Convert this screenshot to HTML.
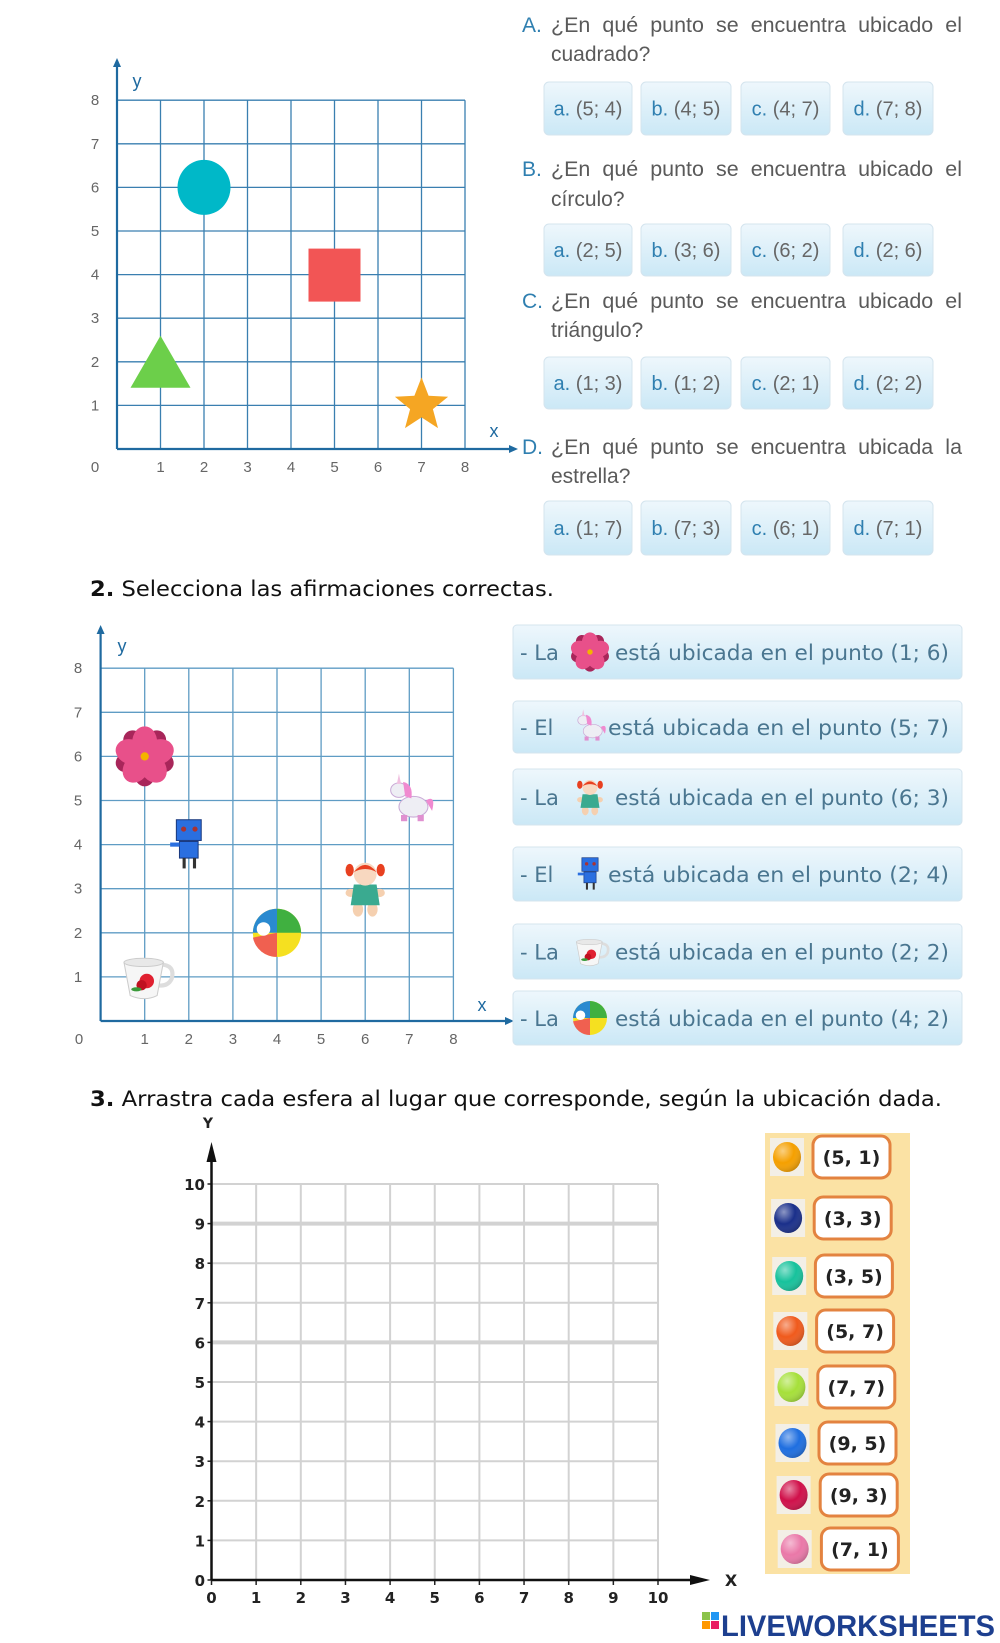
<!DOCTYPE html>
<html><head><meta charset="utf-8">
<style>
html,body{margin:0;padding:0;background:#fff;}
svg{display:block;}
text{font-family:"Liberation Sans",sans-serif;}
.q{font-size:21px;fill:#5a5a5a;}
.ql{font-size:21px;fill:#2f7fb0;}
.dv{font-family:"DejaVu Sans",sans-serif;}
</style></head>
<body>
<svg id="page" width="1000" height="1643" viewBox="0 0 1000 1643" xmlns="http://www.w3.org/2000/svg">
<defs>
<linearGradient id="btn" x1="0" y1="0" x2="0" y2="1"><stop offset="0" stop-color="#eef7fc"/><stop offset="1" stop-color="#cbe8f6"/></linearGradient>
<radialGradient id="shine" cx="0.35" cy="0.3" r="0.8"><stop offset="0" stop-color="#fff" stop-opacity="0.5"/><stop offset="0.5" stop-color="#fff" stop-opacity="0"/><stop offset="1" stop-color="#000" stop-opacity="0.25"/></radialGradient>
</defs>
<g id="c1"></g>
<g id="q1"></g>
<text class="dv" x="90" y="596" font-size="21" fill="#111" textLength="464" lengthAdjust="spacingAndGlyphs"><tspan font-weight="bold">2.</tspan> Selecciona las afirmaciones correctas.</text>
<g id="c2"></g>
<g id="s2"></g>
<text class="dv" x="90" y="1106" font-size="21" fill="#111" textLength="852" lengthAdjust="spacingAndGlyphs"><tspan font-weight="bold">3.</tspan> Arrastra cada esfera al lugar que corresponde, según la ubicación dada.</text>
<g id="c3"></g>
<g id="p3"></g>
<g>
<rect x="702" y="1612" width="8" height="8" fill="#8bc34a"/><rect x="711" y="1612" width="8" height="8" fill="#2196f3"/>
<rect x="702" y="1621" width="8" height="8" fill="#ff9800"/><rect x="711" y="1621" width="8" height="8" fill="#e91e63"/>
<text x="721" y="1636" font-size="30" font-weight="bold" fill="#1d3f8f" textLength="274" lengthAdjust="spacingAndGlyphs">LIVEWORKSHEETS</text>
</g>
</svg>
<script>
// ---------- data ----------
const c1Ticks = [0,1,2,3,4,5,6,7,8];
const c1ShapeNames = ['square','circle','triangle','star'];
const c1ShapeX = [5,2,1,7];
const c1ShapeY = [4,6,2,1];
const c2Ticks = [0,1,2,3,4,5,6,7,8];
const c2ItemNames = ['flower','unicorn','robot','doll','ball','cup'];
const c2ItemX = [1,7,2,6,4,1];
const c2ItemY = [6,5,4,3,2,1];
const c3Ticks = [0,1,2,3,4,5,6,7,8,9,10];
const sphereLabels = ['(5, 1)','(3, 3)','(3, 5)','(5, 7)','(7, 7)','(9, 5)','(9, 3)','(7, 1)'];
const sphereColors = ['#f5a000','#1a2f8a','#17c29c','#f05a1c','#a6e03a','#1e6ee0','#d0104a','#ea78a8'];
const questionLetters = ['A.','B.','C.','D.'];
const questionLine1 = ['¿En qué punto se encuentra ubicado el','¿En qué punto se encuentra ubicado el','¿En qué punto se encuentra ubicado el','¿En qué punto se encuentra ubicada la'];
const questionLine2 = ['cuadrado?','círculo?','triángulo?','estrella?'];
const optionLetters = ['a.','b.','c.','d.'];
const optionValues = [['(5; 4)','(4; 5)','(4; 7)','(7; 8)'],['(2; 5)','(3; 6)','(6; 2)','(2; 6)'],['(1; 3)','(1; 2)','(2; 1)','(2; 2)'],['(1; 7)','(7; 3)','(6; 1)','(7; 1)']];
const stmtArticles = ['- La','- El','- La','- El','- La','- La'];
const stmtIcons = ['flower','unicorn','doll','robot','cup','ball'];
const stmtPoints = ['(1; 6)','(5; 7)','(6; 3)','(2; 4)','(2; 2)','(4; 2)'];

const NS='http://www.w3.org/2000/svg';
function mk(parent,tag,attrs,txt){const e=document.createElementNS(NS,tag);for(const k in attrs)e.setAttribute(k,attrs[k]);if(txt!==undefined)e.textContent=txt;parent.appendChild(e);return e;}

// ---------- icons ----------
function icon(g,type,cx,cy,s){
  const k=s/56;
  const t=mk(g,'g',{transform:`translate(${cx},${cy}) scale(${k})`});
  if(type==='flower'){
    for(let i=0;i<5;i++){mk(t,'ellipse',{cx:0,cy:-14,rx:11,ry:15,fill:'#a8265a',transform:`rotate(${i*72+36})`});}
    for(let i=0;i<5;i++){mk(t,'ellipse',{cx:0,cy:-14,rx:12,ry:15,fill:'#e8508a',transform:`rotate(${i*72})`});}
    mk(t,'circle',{cx:0,cy:0,r:4,fill:'#f4b400'});
  } else if(type==='unicorn'){
    mk(t,'ellipse',{cx:4,cy:6,rx:14,ry:10,fill:'#eeeef4',stroke:'#c9a9d6','stroke-width':1});
    mk(t,'ellipse',{cx:-10,cy:-10,rx:8,ry:7,fill:'#eeeef4',stroke:'#c9a9d6','stroke-width':1});
    mk(t,'path',{d:'M-6,-18 Q4,-16 2,-2 L-4,-4 Z',fill:'#f08ad0'});
    mk(t,'path',{d:'M16,0 Q26,-6 22,10 Z',fill:'#f08ad0'});
    mk(t,'path',{d:'M-12,-16 L-10,-26 L-8,-16Z',fill:'#f0c0e0'});
    mk(t,'rect',{x:-8,y:14,width:6,height:6,fill:'#e090d0'});mk(t,'rect',{x:8,y:14,width:6,height:6,fill:'#e090d0'});
  } else if(type==='robot'){
    mk(t,'rect',{x:-12,y:-24,width:24,height:20,fill:'#2a6fe0',stroke:'#1a3a80','stroke-width':1});
    mk(t,'circle',{cx:-5,cy:-15,r:2.5,fill:'#a33'});mk(t,'circle',{cx:6,cy:-15,r:2.5,fill:'#a33'});
    mk(t,'rect',{x:-9,y:-3,width:18,height:16,fill:'#2a6fe0',stroke:'#1a3a80','stroke-width':1});
    mk(t,'rect',{x:-18,y:-2,width:9,height:4,fill:'#2a6fe0'});
    mk(t,'rect',{x:-6,y:13,width:3,height:10,fill:'#333'});mk(t,'rect',{x:4,y:13,width:3,height:10,fill:'#333'});
  } else if(type==='doll'){
    mk(t,'ellipse',{cx:-7,cy:20,rx:5,ry:7,fill:'#f5d0b0'});mk(t,'ellipse',{cx:7,cy:20,rx:5,ry:7,fill:'#f5d0b0'});
    mk(t,'ellipse',{cx:-14,cy:4,rx:5,ry:4,fill:'#f5d0b0'});mk(t,'ellipse',{cx:14,cy:4,rx:5,ry:4,fill:'#f5d0b0'});
    mk(t,'path',{d:'M-11,-4 L11,-4 L14,16 L-14,16Z',fill:'#3aaa90'});
    mk(t,'circle',{cx:0,cy:-14,r:11,fill:'#f8d8c0'});
    mk(t,'path',{d:'M-11,-16 Q0,-30 11,-16 Q0,-22 -11,-16Z',fill:'#e84020'});
    mk(t,'ellipse',{cx:-15,cy:-18,rx:4,ry:6,fill:'#e84020'});mk(t,'ellipse',{cx:15,cy:-18,rx:4,ry:6,fill:'#e84020'});
  } else if(type==='ball'){
    mk(t,'circle',{cx:0,cy:0,r:25,fill:'#f5e020'});
    mk(t,'path',{d:'M0,0 L-25,0 A25,25 0 0 1 0,-25Z',fill:'#2a8ad0'});
    mk(t,'path',{d:'M0,0 L0,-25 A25,25 0 0 1 25,0Z',fill:'#40b040'});
    mk(t,'path',{d:'M0,0 L-25,5 A25,25 0 0 0 0,25Z',fill:'#f06050'});
    mk(t,'circle',{cx:-14,cy:-4,r:7,fill:'#fff'});
  } else if(type==='cup'){
    mk(t,'path',{d:'M14,-12 Q30,-12 26,2 Q22,10 12,8',fill:'none',stroke:'#ddd','stroke-width':4});
    mk(t,'path',{d:'M-20,-14 L18,-14 L12,18 Q0,24 -14,18Z',fill:'#f6f6f6',stroke:'#ccc','stroke-width':1});
    mk(t,'ellipse',{cx:-1,cy:-14,rx:19,ry:4,fill:'#e8e8e8',stroke:'#ccc','stroke-width':1});
    mk(t,'circle',{cx:2,cy:4,r:7,fill:'#e02030'});mk(t,'circle',{cx:-3,cy:8,r:5,fill:'#c01020'});
    mk(t,'ellipse',{cx:-8,cy:12,rx:5,ry:2,fill:'#3a9a3a'});
  }
  return t;
}

// ---------- chart 1 ----------
(function(){
  const g=document.getElementById('c1');
  const x0=117,y0=449,cw=43.5,ch=43.6;
  const X=v=>x0+v*cw, Y=v=>y0-v*ch;
  const col='#3a7fb0';
  c1Ticks.forEach(v=>{ if(v>0){
    const l=mk(g,'line',{x1:X(v),y1:Y(8),x2:X(v),y2:y0,stroke:col,'stroke-width':1.3});
    
    
    const l2=mk(g,'line',{x1:x0,y1:Y(v),x2:X(8),y2:Y(v),stroke:col,'stroke-width':1.3});
    
    
  }
    const tx=mk(g,'text',{x:X(v),y:467+5,'font-size':15,fill:'#666','text-anchor':'middle'},String(v));
    if(v===0) tx.setAttribute('x',95);
    
    
    if(v>0){const ty=mk(g,'text',{x:95,y:Y(v)+5,'font-size':15,fill:'#666','text-anchor':'middle'},String(v));
    
    }
  });
  mk(g,'line',{x1:x0,y1:y0,x2:512,y2:y0,stroke:'#1f6aa0','stroke-width':2.2});
  mk(g,'path',{d:`M518,${y0} L509,${y0-4} L509,${y0+4}Z`,fill:'#1f6aa0'});
  mk(g,'line',{x1:x0,y1:y0,x2:x0,y2:64,stroke:'#1f6aa0','stroke-width':2.2});
  mk(g,'path',{d:`M${x0},58 L${x0-4},67 L${x0+4},67Z`,fill:'#1f6aa0'});
  mk(g,'text',{x:137,y:87,'font-size':18,fill:'#1f6aa0','text-anchor':'middle'},'y');
  mk(g,'text',{x:494,y:437,'font-size':18,fill:'#1f6aa0','text-anchor':'middle'},'x');
  c1ShapeNames.forEach((n,i)=>{
    const cx=X(c1ShapeX[i]), cy=Y(c1ShapeY[i]); let e;
    if(n==='square') e=mk(g,'rect',{x:cx-26,y:cy-26,width:52,height:53,fill:'#f25555'});
    else if(n==='circle') e=mk(g,'ellipse',{cx:cx,cy:cy,rx:26.5,ry:27.5,fill:'#00b8c8'});
    else if(n==='triangle') e=mk(g,'path',{d:`M${cx},${cy-26} L${cx+30},${cy+26} L${cx-30},${cy+26}Z`,fill:'#6ccf4a'});
    else { let d='';for(let k=0;k<10;k++){const r=k%2?12:28, a=-Math.PI/2+k*Math.PI/5;d+=(k?'L':'M')+(cx+r*Math.cos(a)).toFixed(1)+','+(cy+r*Math.sin(a)).toFixed(1);} e=mk(g,'path',{d:d+'Z',fill:'#f5a623'}); }
    
    
  });
})();

// ---------- questions 1 ----------
(function(){
  const g=document.getElementById('q1');
  const textY=[[25,54],[169,199],[301,330],[447,476]];
  const btnY=[[82,135],[224,276],[357,409],[501,555]];
  const btnX=[[544,632],[641,731],[741,830],[843,933]];
  questionLetters.forEach((L,i)=>{
    const a=mk(g,'text',{x:522,y:textY[i][0]+7,class:'ql'},L);
    
    
    const t=mk(g,'text',{x:551,y:textY[i][0]+7,class:'q',textLength:411,lengthAdjust:'spacingAndGlyphs','word-spacing':6},questionLine1[i]);
    
    
    mk(g,'text',{x:551,y:textY[i][1]+7,class:'q'},questionLine2[i]);
    optionLetters.forEach((o,j)=>{
      const [x1,x2]=btnX[j], [y1,y2]=btnY[i];
      const b=mk(g,'g',{});
      
      
      mk(b,'rect',{x:x1,y:y1,width:x2-x1,height:y2-y1,rx:5,fill:'url(#btn)',stroke:'#d4e4ee','stroke-width':1});
      const tx=mk(b,'text',{x:(x1+x2)/2,y:(y1+y2)/2+7,'font-size':20,'text-anchor':'middle',fill:'#666'});
      mk(tx,'tspan',{fill:'#2f7fb0'},o+' ');
      mk(tx,'tspan',{},optionValues[i][j]);
    });
  });
})();

// ---------- chart 2 ----------
(function(){
  const g=document.getElementById('c2');
  const x0=100.6,y0=1021,cw=44.1,ch=44.1;
  const X=v=>x0+v*cw, Y=v=>y0-v*ch;
  const col='#5f9cc4';
  c2Ticks.forEach(v=>{ if(v>0){
    const l=mk(g,'line',{x1:X(v),y1:Y(8),x2:X(v),y2:y0,stroke:col,'stroke-width':1.3});
    
    
    const l2=mk(g,'line',{x1:x0,y1:Y(v),x2:X(8),y2:Y(v),stroke:col,'stroke-width':1.3});
    
    
  }
    const tx=mk(g,'text',{x:v===0?79:X(v),y:1044,'font-size':15,fill:'#666','text-anchor':'middle'},String(v));
    
    
    if(v>0){const ty=mk(g,'text',{x:78,y:Y(v)+5,'font-size':15,fill:'#666','text-anchor':'middle'},String(v));
    
    }
  });
  mk(g,'line',{x1:x0,y1:y0,x2:508,y2:y0,stroke:'#1f6aa0','stroke-width':2.2});
  mk(g,'path',{d:`M514,${y0} L505,${y0-4} L505,${y0+4}Z`,fill:'#1f6aa0'});
  mk(g,'line',{x1:x0,y1:y0,x2:x0,y2:632,stroke:'#1f6aa0','stroke-width':2.2});
  mk(g,'path',{d:`M${x0},625 L${x0-4},634 L${x0+4},634Z`,fill:'#1f6aa0'});
  mk(g,'text',{x:122,y:652,'font-size':18,fill:'#1f6aa0','text-anchor':'middle'},'y');
  mk(g,'text',{x:482,y:1011,'font-size':18,fill:'#1f6aa0','text-anchor':'middle'},'x');
  c2ItemNames.forEach((n,i)=>{
    const e=icon(g,n,X(c2ItemX[i]),Y(c2ItemY[i]),n==='ball'?54:58);
    
    
  });
})();

// ---------- statements ----------
(function(){
  const g=document.getElementById('s2');
  const boxY=[[625,679],[701,753],[769,825],[847,901],[924,979],[991,1045]];
  stmtArticles.forEach((a,i)=>{
    const [y1,y2]=boxY[i];
    const b=mk(g,'g',{});
    
    
    mk(b,'rect',{x:513,y:y1,width:449,height:y2-y1,rx:4,fill:'url(#btn)',stroke:'#d4e4ee','stroke-width':1});
    const cy=(y1+y2)/2;
    mk(b,'text',{x:520,y:cy+8,'font-size':21,fill:'#4a7690',class:'dv'},a);
    icon(b,stmtIcons[i],590,cy,38);
    const tx=a.indexOf('El')>=0?608:615;
    mk(b,'text',{x:tx,y:cy+8,'font-size':21,fill:'#4a7690',class:'dv',textLength:949-tx,lengthAdjust:'spacingAndGlyphs'},'está ubicada en el punto '+stmtPoints[i]);
  });
})();

// ---------- chart 3 ----------
(function(){
  const g=document.getElementById('c3');
  const x0=211.5,y0=1580,cw=44.65,ch=39.6;
  const X=v=>x0+v*cw, Y=v=>y0-v*ch;
  c3Ticks.forEach(v=>{ if(v>0){
    const l=mk(g,'line',{x1:X(v),y1:Y(10),x2:X(v),y2:y0,stroke:'#d2d2d2','stroke-width':2});
    
    
    const l2=mk(g,'line',{x1:x0,y1:Y(v),x2:X(10),y2:Y(v),stroke:'#d2d2d2','stroke-width':(v===9||v===6)?4:2});
    
    
  }
    mk(g,'line',{x1:X(v),y1:y0,x2:X(v),y2:y0+5,stroke:'#222','stroke-width':1.5});
    mk(g,'line',{x1:x0-4,y1:Y(v),x2:x0,y2:Y(v),stroke:'#222','stroke-width':1.5});
    const tx=mk(g,'text',{x:X(v),y:1603,'font-size':15,'font-weight':'bold',fill:'#222','text-anchor':'middle',class:'dv'},String(v));
    
    
    const ty=mk(g,'text',{x:205,y:Y(v)+6,'font-size':15,'font-weight':'bold',fill:'#222','text-anchor':'end',class:'dv'},String(v));
    
    
  });
  mk(g,'line',{x1:x0,y1:y0,x2:692,y2:y0,stroke:'#111','stroke-width':2.5});
  mk(g,'path',{d:`M710,${y0} L690,${y0-5} L690,${y0+5}Z`,fill:'#111'});
  mk(g,'line',{x1:x0,y1:y0,x2:x0,y2:1160,stroke:'#111','stroke-width':2.5});
  mk(g,'path',{d:`M${x0},1142 L${x0-5},1162 L${x0+5},1162Z`,fill:'#111'});
  mk(g,'text',{x:208,y:1128,'font-size':14,'font-weight':'bold',fill:'#222','text-anchor':'middle',class:'dv'},'Y');
  mk(g,'text',{x:731,y:1586,'font-size':16,'font-weight':'bold',fill:'#222','text-anchor':'middle',class:'dv'},'X');
})();

// ---------- sphere panel ----------
(function(){
  const g=document.getElementById('p3');
  mk(g,'rect',{x:765,y:1133,width:145,height:441,fill:'#fbe2a4'});
  const rowY=[1157,1218,1276,1331,1387,1443,1495,1549];
  sphereLabels.forEach((lab,i)=>{
    const cy=rowY[i], sx=787+i*1.1;
    const s=mk(g,'g',{});
    
    
    mk(s,'rect',{x:sx-17,y:cy-19,width:34,height:38,fill:'#f3efe6'});
    mk(s,'ellipse',{cx:sx,cy:cy,rx:14,ry:15,fill:sphereColors[i]});
    mk(s,'ellipse',{cx:sx,cy:cy,rx:14,ry:15,fill:'url(#shine)'});
    const bx=813+i*1.2;
    const b=mk(g,'g',{});
    
    
    mk(b,'rect',{x:bx,y:cy-21,width:77,height:42,rx:9,fill:'#fff',stroke:'#e38340','stroke-width':3});
    mk(b,'text',{x:bx+38.5,y:cy+7,'font-size':19,'font-weight':'bold',fill:'#222','text-anchor':'middle',class:'dv'},lab);
  });
})();
</script>
</body></html>
